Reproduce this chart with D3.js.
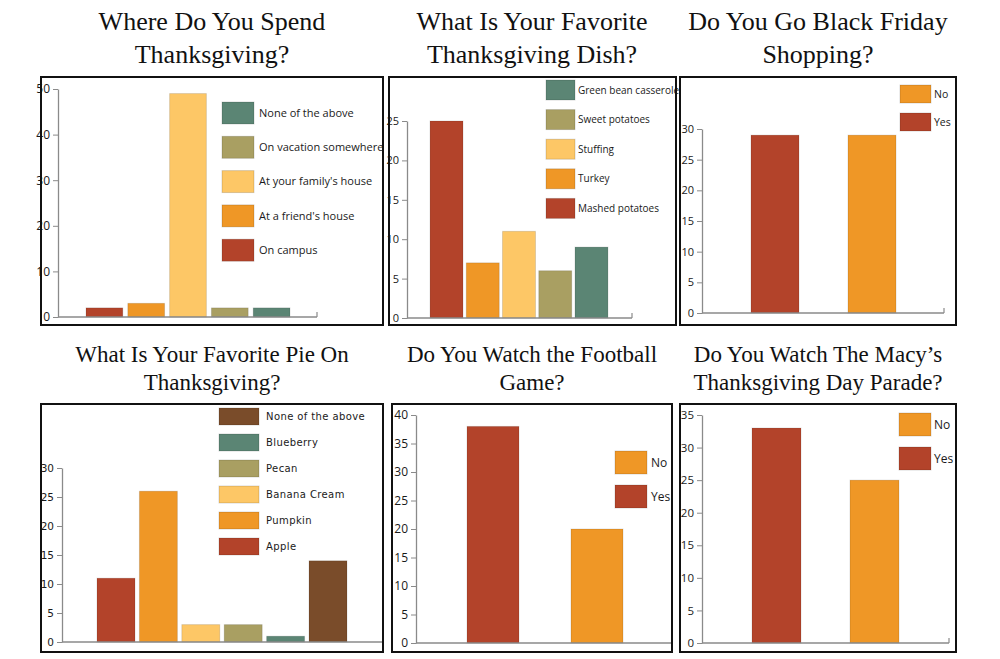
<!DOCTYPE html>
<html>
<head>
<meta charset="utf-8">
<script src="https://cdn.jsdelivr.net/npm/d3@7"></script>
<style>
  body { margin: 0; background: #fff; }
  svg { display: block; }
</style>
</head>
<body>
<svg id="chart"></svg>
<script>
// Data
const spendCategories = ["On campus", "At a friend's house", "At your family's house", "On vacation somewhere", "None of the above"];
const spendValues = [2, 3, 49, 2, 2];
const spendTicks = [0, 10, 20, 30, 40, 50];

const dishCategories = ["Mashed potatoes", "Turkey", "Stuffing", "Sweet potatoes", "Green bean casserole"];
const dishValues = [25, 7, 11, 6, 9];
const dishTicks = [0, 5, 10, 15, 20, 25];

const yesNoCategories = ["Yes", "No"];
const blackFridayValues = [29, 29];
const blackFridayTicks = [0, 5, 10, 15, 20, 25, 30];

const pieCategories = ["Apple", "Pumpkin", "Banana Cream", "Pecan", "Blueberry", "None of the above"];
const pieValues = [11, 26, 3, 3, 1, 14];
const pieTicks = [0, 5, 10, 15, 20, 25, 30];

const footballValues = [38, 20];
const footballTicks = [0, 5, 10, 15, 20, 25, 30, 35, 40];

const paradeValues = [33, 25];
const paradeTicks = [0, 5, 10, 15, 20, 25, 30, 35];

// Colors
const RED = "#b3432a", ORANGE = "#ef9726", LIGHT = "#fdc766", OLIVE = "#a99f62", GREEN = "#5b8574", BROWN = "#7a4c2a";

// SVG constants
const WIDTH = 1000;
const HEIGHT = 659;
const SANS = "'Open Sans', 'Noto Sans', sans-serif";
const SERIF = "'Liberation Serif', 'DejaVu Serif', serif";

const svg = d3.select("#chart")
  .attr("width", WIDTH)
  .attr("height", HEIGHT);

// Panel layouts
const panels = [
  {
    title: ["Where Do You Spend", "Thanksgiving?"], titleSize: 26, titleY: [30, 63], cx: 212,
    box: [41, 77, 383, 325], categories: spendCategories, values: spendValues, ticks: spendTicks,
    colors: [RED, ORANGE, LIGHT, OLIVE, GREEN],
    axisX: 58, y0: 317, yTop: 89, xRange: [83.5, 292.5], pad: 0.12, xEnd: 317, endTick: true,
    tickFont: SANS, tickSize: 12,
    legend: { x: 222, y: 102, w: 32, h: 22, step: 34.3, tx: 259, size: 11, font: SANS, spacing: 0 }
  },
  {
    title: ["What Is Your Favorite", "Thanksgiving Dish?"], titleSize: 26, titleY: [30, 63], cx: 532,
    box: [389, 77, 676, 325], categories: dishCategories, values: dishValues, ticks: dishTicks,
    colors: [RED, ORANGE, LIGHT, OLIVE, GREEN],
    axisX: 407, y0: 318, yTop: 121, xRange: [428.4, 609.6], pad: 0.09, xEnd: 632, endTick: true,
    tickFont: SANS, tickSize: 11,
    legend: { x: 546, y: 80, w: 29, h: 20, step: 29.6, tx: 578, size: 10, font: SANS, spacing: 0 }
  },
  {
    title: ["Do You Go Black Friday", "Shopping?"], titleSize: 26, titleY: [30, 63], cx: 818,
    box: [680, 77, 956, 325], categories: yesNoCategories, values: blackFridayValues, ticks: blackFridayTicks,
    colors: [RED, ORANGE],
    axisX: 702, y0: 313, yTop: 129, xRange: [726.5, 920.5], pad: 0.505, xEnd: 944, endTick: true,
    tickFont: SANS, tickSize: 11,
    legend: { x: 900, y: 85, w: 31, h: 18, step: 28, tx: 934, size: 10.5, font: SANS, spacing: 0 }
  },
  {
    title: ["What Is Your Favorite Pie On", "Thanksgiving?"], titleSize: 23, titleY: [362, 390], cx: 212,
    box: [41, 404, 383, 652], categories: pieCategories, values: pieValues, ticks: pieTicks,
    colors: [RED, ORANGE, LIGHT, OLIVE, GREEN, BROWN],
    axisX: 62, y0: 642, yTop: 468, xRange: [94.8, 349.2], pad: 0.104, xEnd: 383, endTick: false,
    tickFont: "'DejaVu Sans', sans-serif", tickSize: 10.5,
    legend: { x: 219, y: 408, w: 40, h: 17, step: 26, tx: 266, size: 10, font: "'DejaVu Sans', sans-serif", spacing: 0.4 }
  },
  {
    title: ["Do You Watch the Football", "Game?"], titleSize: 23, titleY: [362, 390], cx: 532,
    box: [392, 404, 672, 652], categories: yesNoCategories, values: footballValues, ticks: footballTicks,
    colors: [RED, ORANGE],
    axisX: 416, y0: 643, yTop: 415, xRange: [441, 649], pad: 0.5, xEnd: 672, endTick: false,
    tickFont: SANS, tickSize: 12,
    legend: { x: 615, y: 451, w: 32, h: 23, step: 34, tx: 651, size: 12, font: SANS, spacing: 0 }
  },
  {
    title: ["Do You Watch The Macy\u2019s", "Thanksgiving Day Parade?"], titleSize: 23, titleY: [362, 390], cx: 818,
    box: [680, 404, 956, 652], categories: yesNoCategories, values: paradeValues, ticks: paradeTicks,
    colors: [RED, ORANGE],
    axisX: 702, y0: 643, yTop: 415, xRange: [727.5, 923.5], pad: 0.5, xEnd: 949, endTick: true,
    tickFont: SANS, tickSize: 11.5,
    legend: { x: 899, y: 413, w: 32, h: 23, step: 34, tx: 934, size: 12, font: SANS, spacing: 0 }
  }
];

panels.forEach(drawPanel);

// Draw one small bar chart
function drawPanel(p) {
  const g = svg.append("g");
  const [bx0, by0, bx1, by1] = p.box;

  // Title
  g.selectAll(".title")
    .data(p.title)
    .enter()
    .append("text")
    .attr("class", "title")
    .attr("x", p.cx)
    .attr("y", (d, i) => p.titleY[i])
    .attr("text-anchor", "middle")
    .attr("font-family", SERIF)
    .attr("font-size", p.titleSize)
    .attr("fill", "#111")
    .text(d => d);

  // Scales
  const xScale = d3.scaleBand()
    .domain(p.categories)
    .range(p.xRange)
    .paddingInner(p.pad)
    .paddingOuter(p.pad / 2);

  const yScale = d3.scaleLinear()
    .domain([0, d3.max(p.ticks)])
    .range([p.y0, p.yTop]);

  const colorScale = d3.scaleOrdinal()
    .domain(p.categories)
    .range(p.colors);

  // Bars
  g.selectAll(".bar")
    .data(p.categories)
    .enter()
    .append("rect")
    .attr("class", "bar")
    .attr("x", d => xScale(d))
    .attr("y", (d, i) => yScale(p.values[i]))
    .attr("width", xScale.bandwidth())
    .attr("height", (d, i) => yScale(0) - yScale(p.values[i]))
    .attr("fill", d => colorScale(d))
    .attr("stroke", "rgba(0,0,0,0.12)")
    .attr("stroke-width", 1);

  // Y axis
  const yAxis = g.append("g")
    .attr("transform", `translate(${p.axisX},0)`)
    .call(d3.axisLeft(yScale).tickValues(p.ticks).tickSize(5).tickSizeOuter(0).tickPadding(3));

  yAxis.select(".domain").attr("stroke", "#8a8a8a").attr("stroke-width", 1.3);
  yAxis.selectAll(".tick line").attr("stroke", "#8a8a8a");
  yAxis.selectAll(".tick text")
    .attr("fill", "#1a1a1a")
    .attr("font-family", p.tickFont)
    .attr("font-size", p.tickSize);

  // X axis line
  g.append("line")
    .attr("x1", p.axisX)
    .attr("x2", p.xEnd)
    .attr("y1", p.y0)
    .attr("y2", p.y0)
    .attr("stroke", "#8a8a8a")
    .attr("stroke-width", 1.6);

  if (p.endTick) {
    g.append("line")
      .attr("x1", p.xEnd)
      .attr("x2", p.xEnd)
      .attr("y1", p.y0)
      .attr("y2", p.y0 - 5)
      .attr("stroke", "#8a8a8a")
      .attr("stroke-width", 1.2);
  }

  // Legend (reverse order, last category on top)
  const L = p.legend;
  const legendItems = p.categories.slice().reverse();

  const items = g.selectAll(".legend")
    .data(legendItems)
    .enter()
    .append("g")
    .attr("class", "legend")
    .attr("transform", (d, i) => `translate(${L.x},${L.y + i * L.step})`);

  items.append("rect")
    .attr("width", L.w)
    .attr("height", L.h)
    .attr("fill", d => colorScale(d))
    .attr("stroke", "rgba(0,0,0,0.15)")
    .attr("stroke-width", 1);

  items.append("text")
    .attr("x", L.tx - L.x)
    .attr("y", L.h / 2)
    .attr("dy", "0.35em")
    .attr("font-family", L.font)
    .attr("font-size", L.size)
    .attr("letter-spacing", L.spacing)
    .attr("fill", "#1a1a1a")
    .text(d => d);

  // Frame drawn last so it clips overflowing text like the original
  g.append("rect")
    .attr("x", bx0)
    .attr("y", by0)
    .attr("width", bx1 - bx0)
    .attr("height", by1 - by0)
    .attr("fill", "none")
    .attr("stroke", "#111")
    .attr("stroke-width", 2);
}
</script>
</body>
</html>
